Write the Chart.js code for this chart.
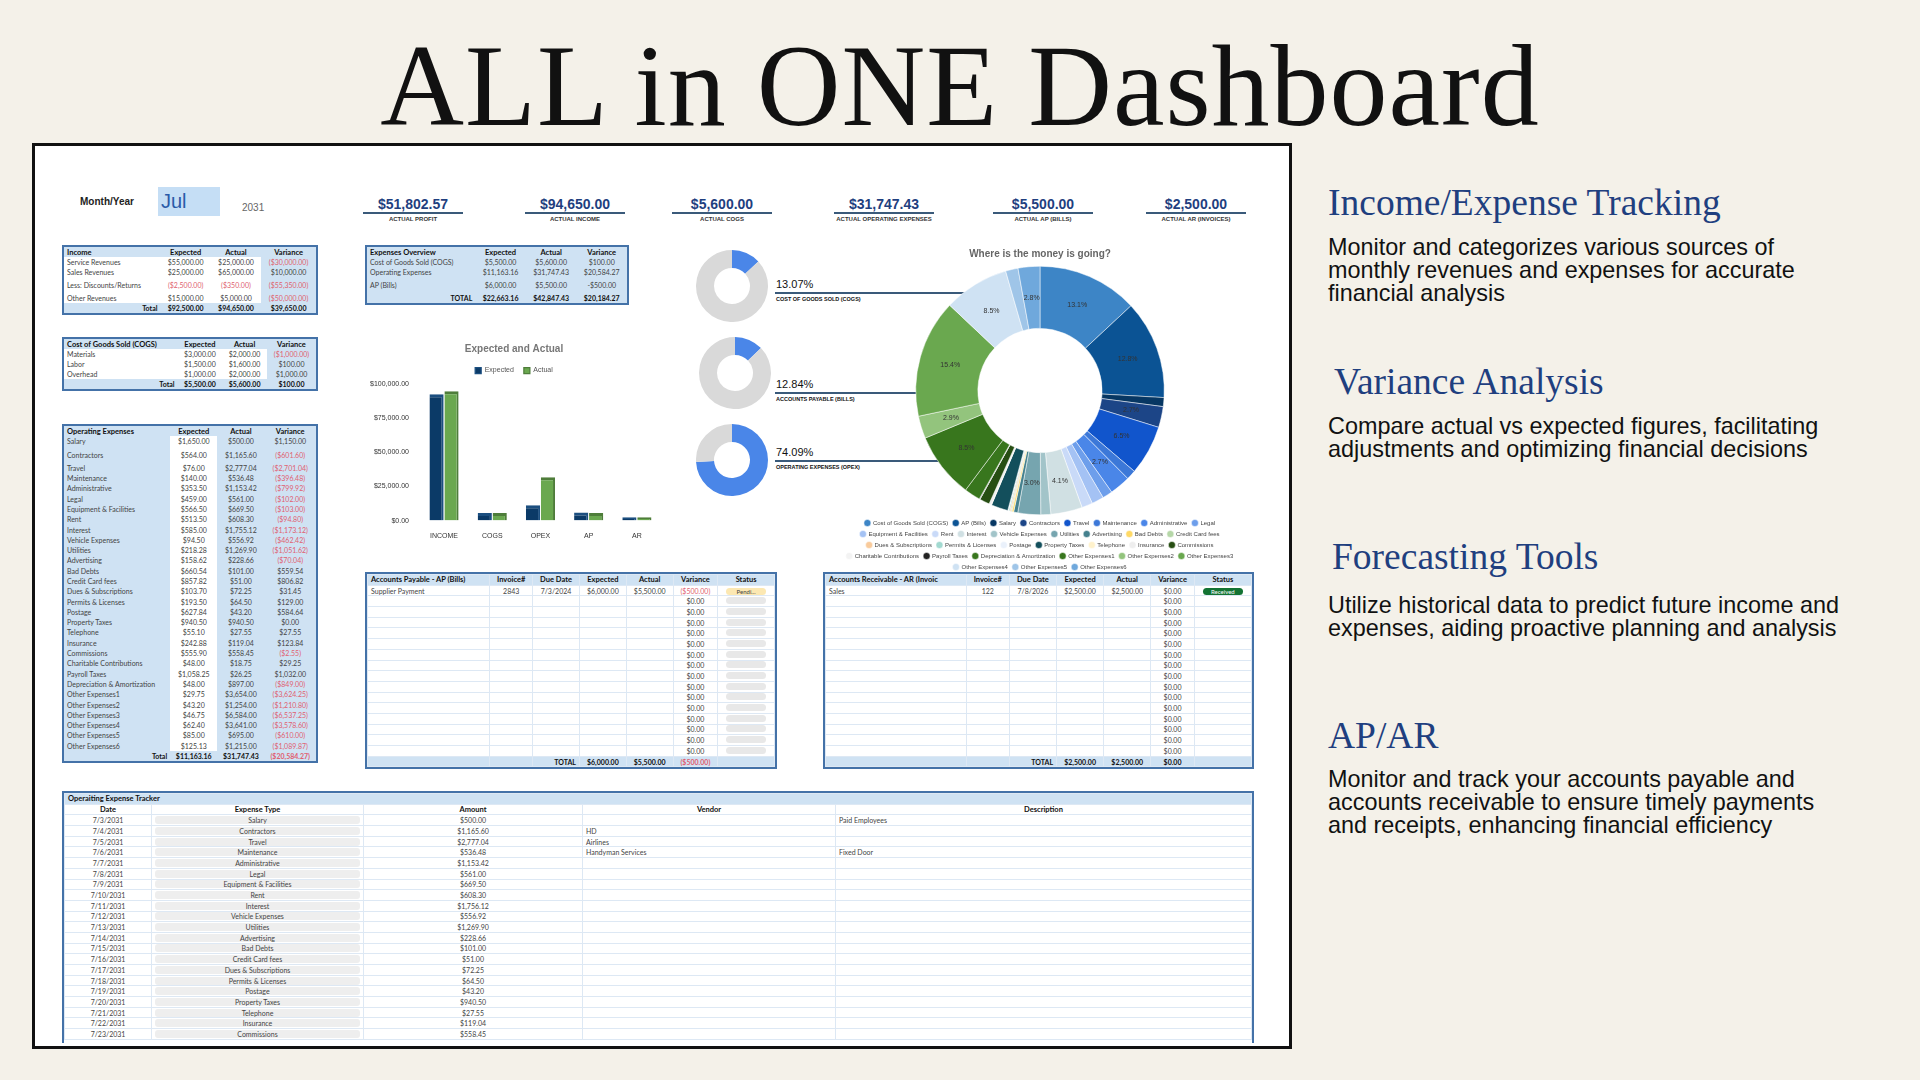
<!DOCTYPE html>
<html><head><meta charset="utf-8">
<script src="https://cdn.jsdelivr.net/npm/chart.js@4.4.1/dist/chart.umd.min.js"></script>
<style>
body{margin:0;width:1920px;height:1080px;background:#f4f1e9;font-family:"Liberation Sans",Arial,sans-serif;position:relative;overflow:hidden}
.abs{position:absolute}
#title{left:0;width:1920px;top:20px;text-align:center;font-family:"Liberation Serif",serif;font-size:116px;color:#111;letter-spacing:1px}
#frame{left:32px;top:143px;width:1254px;height:900px;border:3px solid #111;background:#fff}
.rh{font-family:"Liberation Serif",serif;font-size:37.5px;color:#1f3f7f}
.rb{font-size:23.4px;line-height:23px;color:#111}
table{border-collapse:collapse;font-family:"Lato","Liberation Sans",sans-serif;font-size:7px;color:#444}
.tb{position:absolute;border:2px solid #4472a8;background:#cfe2f3}
.tb table{width:100%}
.tb td{padding:0 3px;height:10px;white-space:nowrap}
.op td{height:10.3px}
.tb .h td{font-weight:bold;color:#111;font-size:7.5px}
.w{background:#fff}
.neg{color:#e06070}
.tot td{font-weight:bold;color:#111}
.c{text-align:center}
.kv{font-size:14px;font-weight:bold;color:#1f3f7f;text-align:center;width:100px}
.kl{font-size:6px;font-weight:bold;color:#333;text-align:center;border-top:2px solid #3a5a7a;padding-top:2px}
.dl{font-size:11px;color:#111}
.ds{font-size:5.5px;font-weight:bold;color:#111}
.ln{height:1.5px;background:#3a5a7a}
.pill{display:inline-block;width:40px;height:7px;border-radius:4px;background:#e8e8e8}
.tr td{border:1px solid #dde8f4;height:9.7px;padding:0 3px}
.gp{background:#eee;border-radius:3px;display:block}
</style></head><body>
<div id="title" class="abs">ALL in ONE Dashboard</div>
<div id="frame" class="abs"></div>

<div class="abs rh" style="left:1328px;top:181px">Income/Expense Tracking</div>
<div class="abs rb" style="left:1328px;top:236px">Monitor and categorizes various sources of<br>monthly revenues and expenses for accurate<br>financial analysis</div>
<div class="abs rh" style="left:1334px;top:360px">Variance Analysis</div>
<div class="abs rb" style="left:1328px;top:415px">Compare actual vs expected figures, facilitating<br>adjustments and optimizing financial decisions</div>
<div class="abs rh" style="left:1332px;top:535px">Forecasting Tools</div>
<div class="abs rb" style="left:1328px;top:594px">Utilize historical data to predict future income and<br>expenses, aiding proactive planning and analysis</div>
<div class="abs rh" style="left:1328px;top:714px">AP/AR</div>
<div class="abs rb" style="left:1328px;top:768px">Monitor and track your accounts payable and<br>accounts receivable to ensure timely payments<br>and receipts, enhancing financial efficiency</div>

<div class="abs" style="left:80px;top:196px;font-size:10px;font-weight:bold;color:#222">Month/Year</div>
<div class="abs" style="left:158px;top:187px;width:59px;height:29px;background:#c5def5;color:#2a5aa8;font-size:20px;line-height:29px;padding-left:3px">Jul</div>
<div class="abs" style="left:242px;top:202px;font-size:10px;color:#666">2031</div>
<div id="kpis"></div>

<div id="tables"></div>
<div class="abs" style="left:367px;top:343px;width:294px;height:200px"><canvas id="bar"></canvas></div>

<div class="abs" style="left:696px;top:250px;width:72px;height:72px"><canvas id="d1"></canvas></div>
<div class="abs" style="left:699px;top:337px;width:72px;height:72px"><canvas id="d2"></canvas></div>
<div class="abs" style="left:696px;top:424px;width:72px;height:72px"><canvas id="d3"></canvas></div>
<div class="abs dl" style="left:776px;top:278px">13.07%</div><div class="abs ln" style="left:775px;top:292px;width:235px"></div><div class="abs ds" style="left:776px;top:296px">COST OF GOODS SOLD (COGS)</div>
<div class="abs dl" style="left:776px;top:378px">12.84%</div><div class="abs ln" style="left:775px;top:392px;width:145px"></div><div class="abs ds" style="left:776px;top:396px">ACCOUNTS PAYABLE (BILLS)</div>
<div class="abs dl" style="left:776px;top:446px">74.09%</div><div class="abs ln" style="left:775px;top:460px;width:170px"></div><div class="abs ds" style="left:776px;top:464px">OPERATING EXPENSES (OPEX)</div>
<div class="abs" style="left:840px;top:248px;width:400px;height:332px"><canvas id="pie"></canvas></div>

<script>
const kpiValues=["$51,802.57","$94,650.00","$5,600.00","$31,747.43","$5,500.00","$2,500.00"];
const kpiLabels=["ACTUAL PROFIT","ACTUAL INCOME","ACTUAL COGS","ACTUAL OPERATING EXPENSES","ACTUAL AP (BILLS)","ACTUAL AR (INVOICES)"];
const incomeRows=[["Service Revenues","$55,000.00","$25,000.00","($30,000.00)"],["Sales Revenues","$25,000.00","$65,000.00","$10,000.00"],["Less: Discounts/Returns","($2,500.00)","($350.00)","($55,350.00)"],["Other Revenues","$15,000.00","$5,000.00","($50,000.00)"]];
const incomeTotal=["$92,500.00","$94,650.00","$39,650.00"];
const cogsRows=[["Materials","$3,000.00","$2,000.00","($1,000.00)"],["Labor","$1,500.00","$1,600.00","$100.00"],["Overhead","$1,000.00","$2,000.00","$1,000.00"]];
const cogsTotal=["$5,500.00","$5,600.00","$100.00"];
const opexNames=["Salary","Contractors","Travel","Maintenance","Administrative","Legal","Equipment & Facilities","Rent","Interest","Vehicle Expenses","Utilities","Advertising","Bad Debts","Credit Card fees","Dues & Subscriptions","Permits & Licenses","Postage","Property Taxes","Telephone","Insurance","Commissions","Charitable Contributions","Payroll Taxes","Depreciation & Amortization","Other Expenses1","Other Expenses2","Other Expenses3","Other Expenses4","Other Expenses5","Other Expenses6"];
const opexExpected=["$1,650.00","$564.00","$76.00","$140.00","$353.50","$459.00","$566.50","$513.50","$585.00","$94.50","$218.28","$158.62","$660.54","$857.82","$103.70","$193.50","$627.84","$940.50","$55.10","$242.88","$555.90","$48.00","$1,058.25","$48.00","$29.75","$43.20","$46.75","$62.40","$85.00","$125.13"];
const opexActual=[500,1165.60,2777.04,536.48,1153.42,561,669.50,608.30,1755.12,556.92,1269.90,228.66,101,51,72.25,64.50,43.20,940.50,27.55,119.04,558.45,18.75,26.25,897,3654,1254,6584,3641,695,1215];
const opexVariance=["$1,150.00","($601.60)","($2,701.04)","($396.48)","($799.92)","($102.00)","($103.00)","($94.80)","($1,173.12)","($462.42)","($1,051.62)","($70.04)","$559.54","$806.82","$31.45","$129.00","$584.64","$0.00","$27.55","$123.84","($2.55)","$29.25","$1,032.00","($849.00)","($3,624.25)","($1,210.80)","($6,537.25)","($3,578.60)","($610.00)","($1,089.87)"];
const opexTotal=["$11,163.16","$31,747.43","($20,584.27)"];
const overviewRows=[["Cost of Goods Sold (COGS)","$5,500.00","$5,600.00","$100.00"],["Operating Expenses","$11,163.16","$31,747.43","$20,584.27"],["AP (Bills)","$6,000.00","$5,500.00","-$500.00"]];
const overviewTotal=["$22,663.16","$42,847.43","$20,184.27"];
const barCategories=["INCOME","COGS","OPEX","AP","AR"];
const barExpected=[92500,5500,11163.16,6000,2500];
const barActual=[94650,5600,31747.43,5500,2500];
const barTicks=["$0.00","$25,000.00","$50,000.00","$75,000.00","$100,000.00"];
const shareLabels=["COGS","AP","OPEX"];
const sharePercent=[13.07,12.84,74.09];
const pieLabels=["Cost of Goods Sold (COGS)","AP (Bills)"].concat(opexNames);
const pieValues=[5600,5500].concat(opexActual);
const pieColors=["#3d85c6","#0b5394","#073763","#1c4587","#1155cc","#3c78d8","#4a86e8","#6d9eeb","#a4c2f4","#c9daf8","#d0e0e3","#a2c4c9","#76a5af","#45818e","#ffd966","#b6d7a8","#f9cb9c","#a2d9d0","#eaf1fb","#134f5c","#fff2cc","#eeeeee","#274e13","#f3f3f3","#222222","#38761d","#38761d","#93c47d","#6aa84f","#cfe2f3","#9fc5e8","#6fa8dc"];
const apRow=["Supplier Payment","2843","7/3/2024","$6,000.00","$5,500.00","($500.00)","Pendi..."];
const apTotal=["$6,000.00","$5,500.00","($500.00)"];
const arRow=["Sales","122","7/8/2026","$2,500.00","$2,500.00","$0.00","Received"];
const arTotal=["$2,500.00","$2,500.00","$0.00"];
const trackerDates=["7/3/2031","7/4/2031","7/5/2031","7/6/2031","7/7/2031","7/8/2031","7/9/2031","7/10/2031","7/11/2031","7/12/2031","7/13/2031","7/14/2031","7/15/2031","7/16/2031","7/17/2031","7/18/2031","7/19/2031","7/20/2031","7/21/2031","7/22/2031","7/23/2031"];
const trackerAmounts=["$500.00","$1,165.60","$2,777.04","$536.48","$1,153.42","$561.00","$669.50","$608.30","$1,756.12","$556.92","$1,269.90","$228.66","$101.00","$51.00","$72.25","$64.50","$43.20","$940.50","$27.55","$119.04","$558.45"];
const trackerVendors={0:"",1:"HD",2:"Airlines",3:"Handyman Services"};
const trackerDesc={0:"Paid Employees",3:"Fixed Door"};

const money=v=>"$"+v.toLocaleString("en-US",{minimumFractionDigits:2,maximumFractionDigits:2});
const cls=s=>s.startsWith("(")?' class="neg"':'';
let kh="";const kx=[413,575,722,884,1043,1196];
kpiValues.forEach((v,i)=>{kh+=`<div class="abs" style="left:${kx[i]-50}px;top:196px;width:100px"><div class="kv">${v}</div><div class="kl">${kpiLabels[i]}</div></div>`});
document.getElementById("kpis").innerHTML=kh;

function fin(title,rows,total,l,t,w,totLabel,wcols,extra,gapAfter){
 let h=`<div class="tb ${extra||''}" style="left:${l}px;top:${t}px;width:${w}px"><table><tr class="h"><td>${title}</td><td class="c">Expected</td><td class="c">Actual</td><td class="c">Variance</td></tr>`;
 rows.forEach((r,i)=>{const st=(gapAfter!==undefined&&i===gapAfter)?' style="height:16px"':'';h+=`<tr${st}><td${wcols?' class="w"':''}>${r[0]}</td><td class="c w${r[1].startsWith("(")?' neg':''}">${r[1]}</td><td class="c${wcols?' w':''}${r[2].startsWith("(")?' neg':''}">${r[2]}</td><td class="c"><span${cls(r[3])}>${r[3]}</span></td></tr>`});
 h+=`<tr class="tot"><td style="text-align:right">${totLabel}</td><td class="c">${total[0]}</td><td class="c">${total[1]}</td><td class="c"><span${cls(total[2])}>${total[2]}</span></td></tr></table></div>`;
 return h;
}
let th="";
th+=fin("Income",incomeRows,incomeTotal,62,245,252,"Total",true,"",2);
th+=fin("Cost of Goods Sold (COGS)",cogsRows,cogsTotal,62,337,252,"Total",true);
const opRows=opexNames.map((n,i)=>[n,opexExpected[i],money(opexActual[i]),opexVariance[i]]);
th+=fin("Operating Expenses",opRows,opexTotal,62,424,252,"Total",false,"op",1);
th+=fin("Expenses Overview",overviewRows,overviewTotal,365,245,260,"TOTAL",false,"",2).replace(/ w"/g,'"');
function apar(title,row,total,l,w,green){
 let h=`<div class="tb" style="left:${l}px;top:572px;width:${w}px;background:#fff"><table class="tr"><tr class="h" style="background:#cfe2f3"><td>${title}</td><td class="c">Invoice#</td><td class="c">Due Date</td><td class="c">Expected</td><td class="c">Actual</td><td class="c">Variance</td><td class="c">Status</td></tr>`;
 h+=`<tr><td>${row[0]}</td><td class="c">${row[1]}</td><td class="c">${row[2]}</td><td class="c">${row[3]}</td><td class="c">${row[4]}</td><td class="c"><span${cls(row[5])}>${row[5]}</span></td><td class="c"><span class="pill" style="${green?'background:#137333;color:#fff':'background:#fce8b2'};line-height:7px;font-size:6px">${row[6]}</span></td></tr>`;
 for(let i=0;i<15;i++)h+=`<tr><td></td><td></td><td></td><td></td><td></td><td class="c">$0.00</td><td class="c">${green?'':'<span class="pill"></span>'}</td></tr>`;
 h+=`<tr class="tot" style="background:#cfe2f3"><td></td><td></td><td style="text-align:right">TOTAL</td><td class="c">${total[0]}</td><td class="c">${total[1]}</td><td class="c"><span${cls(total[2])}>${total[2]}</span></td><td></td></tr></table></div>`;
 return h;
}
th+=apar("Accounts Payable - AP (Bills)",apRow,apTotal,365,408,false);
th+=apar("Accounts Receivable - AR (Invoic",arRow,arTotal,823,427,true);
let tr=`<div class="tb" style="left:62px;top:791px;width:1188px;height:250px;overflow:hidden;background:#fff;border-bottom:none"><table class="tr" style="width:100%"><tr class="h" style="background:#cfe2f3"><td colspan="5">Operaiting Expense Tracker</td></tr><tr class="h" style="background:#fff"><td class="c" style="width:80px">Date</td><td class="c" style="width:205px">Expense Type</td><td class="c" style="width:212px">Amount</td><td class="c" style="width:246px">Vendor</td><td class="c">Description</td></tr>`;
trackerDates.forEach((d,i)=>{tr+=`<tr><td class="c">${d}</td><td class="c"><span class="gp">${opexNames[i]}</span></td><td class="c">${trackerAmounts[i]}</td><td>${trackerVendors[i]||""}</td><td>${trackerDesc[i]||""}</td></tr>`});
tr+=`</table></div>`;
document.getElementById("tables").innerHTML=th+tr;

Chart.defaults.font.family="Liberation Sans, Arial, sans-serif";
new Chart(document.getElementById("bar"),{type:"bar",data:{labels:barCategories,datasets:[
 {label:"Expected",data:barExpected,backgroundColor:"#0b3a67",borderColor:"#1c4f80",borderWidth:{top:3,right:2},borderSkipped:false},
 {label:"Actual",data:barActual,backgroundColor:"#6aa84f",borderColor:"#4e7d3a",borderWidth:{top:3,right:2},borderSkipped:false}]},
 options:{responsive:true,maintainAspectRatio:false,animation:false,
 plugins:{title:{display:true,text:"Expected and Actual",color:"#777",font:{size:10,weight:"bold"},padding:{top:0,bottom:2}},
 legend:{labels:{boxWidth:6,boxHeight:6,font:{size:7},color:"#555"}}},
 datasets:{bar:{categoryPercentage:0.62,barPercentage:0.95}},
 scales:{x:{grid:{display:false},border:{display:false},ticks:{font:{size:7},color:"#333"}},
 y:{min:0,max:100000,grid:{display:false},border:{display:false},ticks:{stepSize:25000,font:{size:7},color:"#333",callback:(v,i)=>barTicks[i]}}}}});

sharePercent.forEach((p,i)=>{new Chart(document.getElementById("d"+(i+1)),{type:"doughnut",data:{labels:[shareLabels[i],"Other"],datasets:[{data:[p,100-p],backgroundColor:["#4a86e8","#d9d9d9"],borderWidth:0}]},options:{responsive:true,maintainAspectRatio:false,animation:false,cutout:"50%",plugins:{legend:{display:false},tooltip:{enabled:false}}}})});

const pctLabels={id:"pct",afterDatasetsDraw(c){const ctx=c.ctx,m=c.getDatasetMeta(0),tot=pieValues.reduce((a,b)=>a+b,0);ctx.save();ctx.font="7px Liberation Sans";ctx.fillStyle="#333";ctx.textAlign="center";ctx.textBaseline="middle";
 m.data.forEach((a,i)=>{const f=pieValues[i]/tot;if(f<0.025)return;const ang=(a.startAngle+a.endAngle)/2,r=(a.innerRadius+a.outerRadius)/2;ctx.fillText((f*100).toFixed(1)+"%",a.x+Math.cos(ang)*r,a.y+Math.sin(ang)*r)});ctx.restore()}};
new Chart(document.getElementById("pie"),{type:"doughnut",data:{labels:pieLabels,datasets:[{data:pieValues,backgroundColor:pieColors,borderColor:"#fff",borderWidth:0.5}]},
 options:{responsive:true,maintainAspectRatio:false,animation:false,cutout:"50%",layout:{padding:{left:0,right:0}},
 plugins:{title:{display:true,text:"Where is the money is going?",color:"#666",font:{size:10,weight:"bold"},padding:{top:0,bottom:6}},
 legend:{position:"bottom",labels:{usePointStyle:true,pointStyle:"circle",boxWidth:5,boxHeight:5,padding:5,font:{size:6},color:"#444"}},tooltip:{enabled:false}}},plugins:[pctLabels]});
</script>
</body></html>
